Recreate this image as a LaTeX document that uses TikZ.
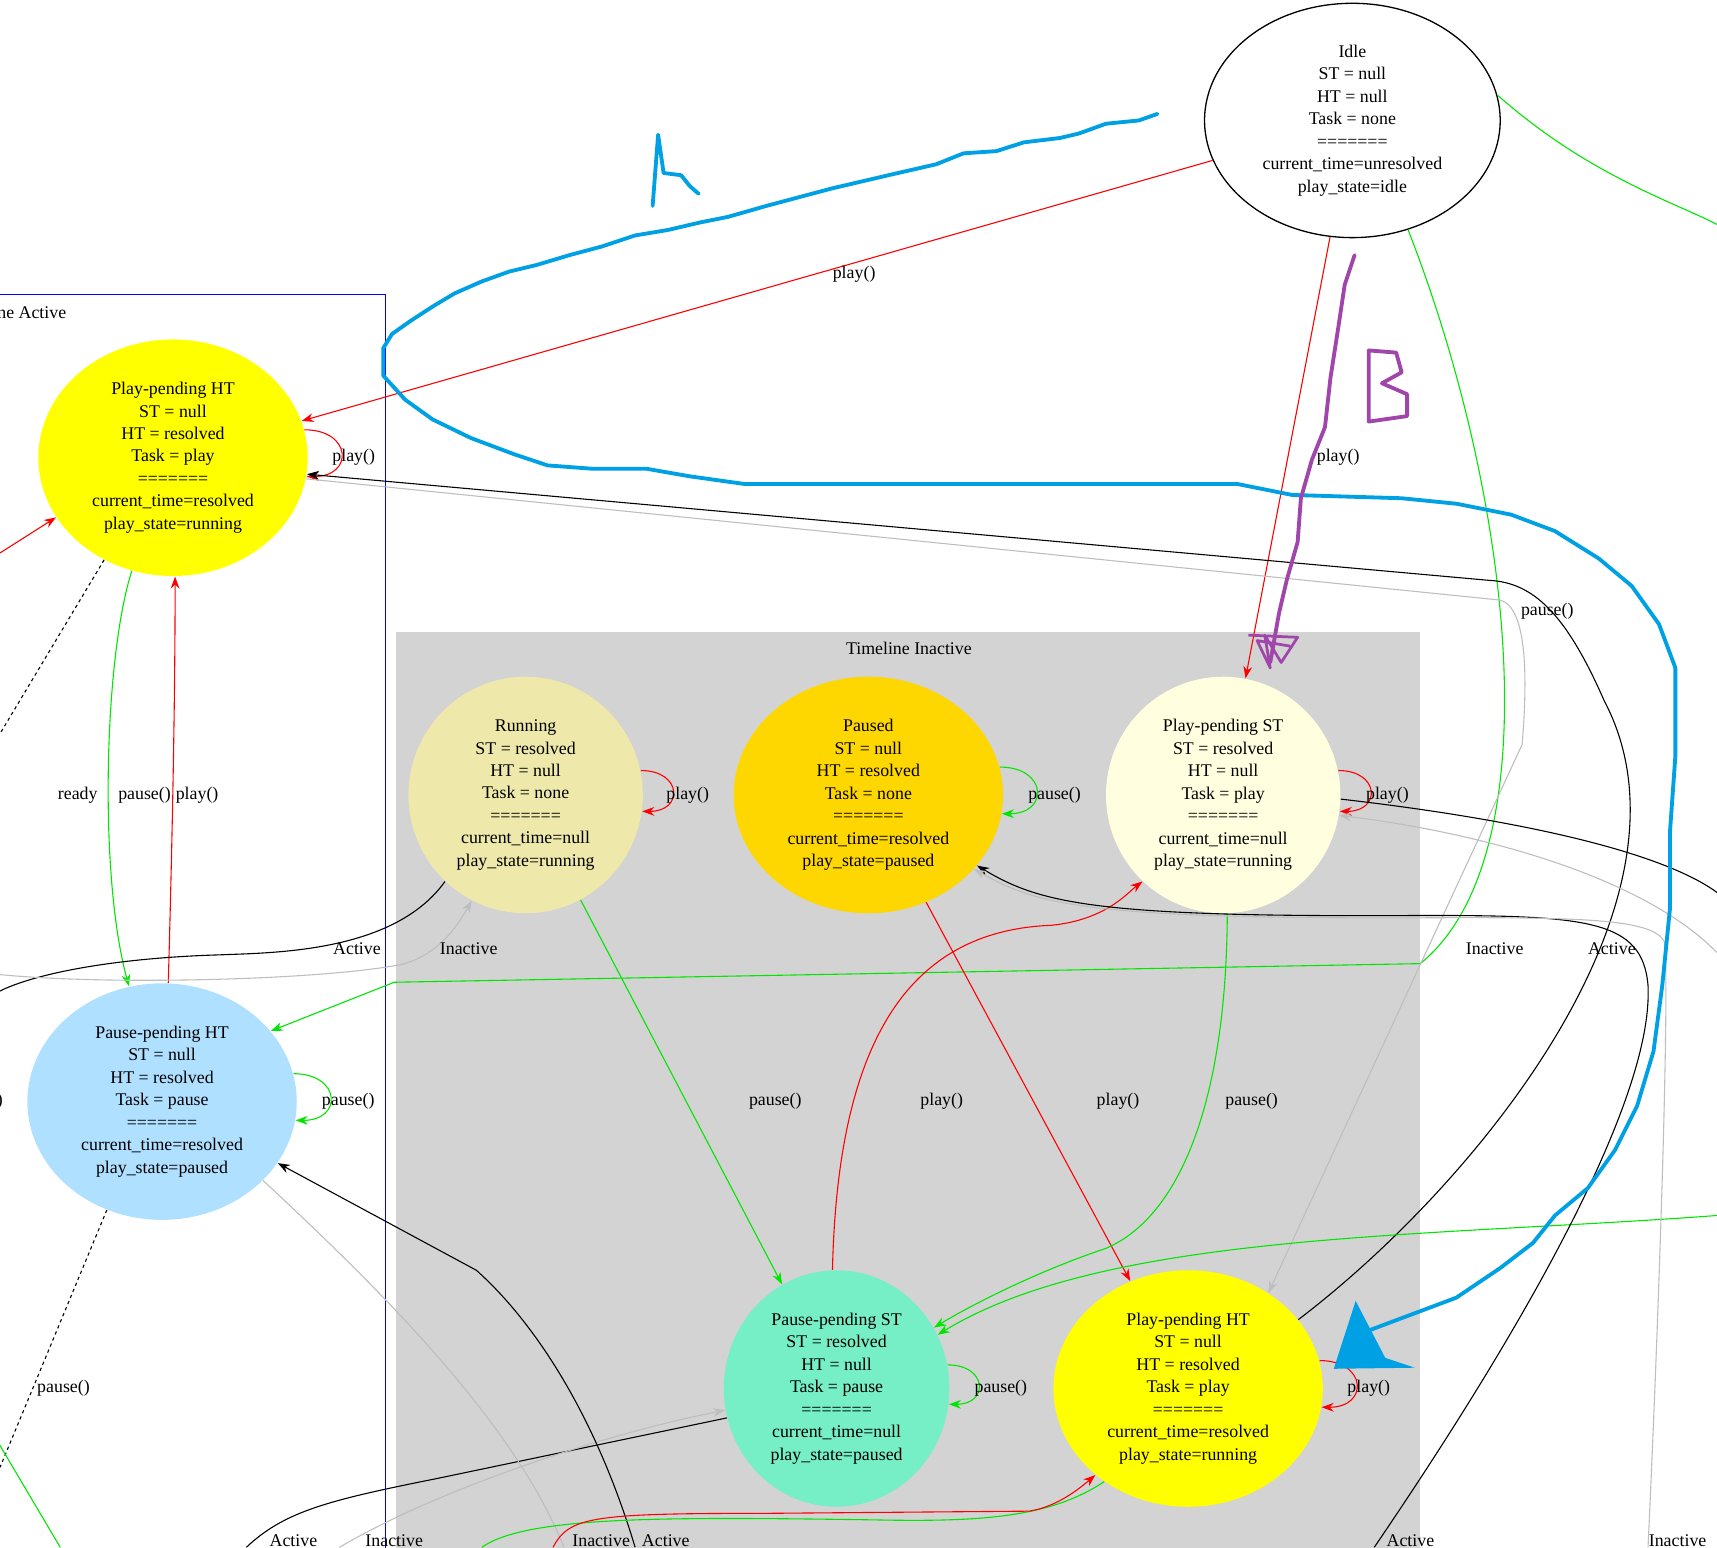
\documentclass[tikz,border=0pt]{standalone}
\usepackage{fontspec}
\setmainfont{Liberation Serif}
\usetikzlibrary{shapes.geometric,arrows.meta}
\definecolor{pgold}{RGB}{238,232,170}
\definecolor{lblue}{RGB}{176,224,255}
\definecolor{aqua}{RGB}{118,238,198}
\definecolor{lyel}{RGB}{255,255,224}
\definecolor{yel}{RGB}{255,255,0}
\definecolor{gld}{RGB}{255,215,0}
\definecolor{inact}{RGB}{211,211,211}
\definecolor{gr}{RGB}{0,230,0}
\definecolor{gry}{RGB}{190,190,190}
\definecolor{hblue}{RGB}{0,160,228}
\definecolor{hpurp}{RGB}{160,70,170}
\begin{document}
\begin{tikzpicture}[x=1pt,y=-1pt,line width=1pt,
  st/.style={ellipse,inner sep=0pt,align=center,font=\fontsize{16.3}{20.5}\selectfont},
  lb/.style={font=\fontsize{16.3}{18}\selectfont,inner sep=1pt},
  arr/.style={-{Stealth[length=11pt,width=8pt]}},
  lp/.style={out=0,in=0,looseness=2.6},
  hand/.style={line width=3.5pt,line cap=round,line join=round}]
\useasboundingbox (0,0) rectangle (1568,1413);
% clusters
\draw[blue] (-5,269) -- (352,269) -- (352,1420);
\node[lb,anchor=east] (tact) at (62,285) {Timeline Active};
\fill[inact] (362,577) rectangle (1297,1420);
\node[lb] (tin) at (830,592) {Timeline Inactive};
% states
\node[st,draw,line width=1.2pt,fill=white,minimum width=270pt,minimum height=214pt] (idle) at (1235,110) {Idle\\ST = null\\HT = null\\Task = none\\=======\\current\_time=unresolved\\play\_state=idle};
\node[st,fill=yel,minimum width=246pt,minimum height=216pt] (ppa) at (158,418) {Play-pending HT\\ST = null\\HT = resolved\\Task = play\\=======\\current\_time=resolved\\play\_state=running};
\node[st,fill=lblue,minimum width=246pt,minimum height=216pt] (pph) at (148,1006) {Pause-pending HT\\ST = null\\HT = resolved\\Task = pause\\=======\\current\_time=resolved\\play\_state=paused};
\node[st,fill=pgold,minimum width=214pt,minimum height=216pt] (run) at (480,726) {Running\\ST = resolved\\HT = null\\Task = none\\=======\\current\_time=null\\play\_state=running};
\node[st,fill=gld,minimum width=246pt,minimum height=216pt] (pau) at (793,726) {Paused\\ST = null\\HT = resolved\\Task = none\\=======\\current\_time=resolved\\play\_state=paused};
\node[st,fill=lyel,minimum width=214pt,minimum height=216pt] (ppst) at (1117,726) {Play-pending ST\\ST = resolved\\HT = null\\Task = play\\=======\\current\_time=null\\play\_state=running};
\node[st,fill=aqua,minimum width=206pt,minimum height=216pt] (pst) at (764,1268) {Pause-pending ST\\ST = resolved\\HT = null\\Task = pause\\=======\\current\_time=null\\play\_state=paused};
\node[st,fill=yel,minimum width=246pt,minimum height=216pt] (ppb) at (1085,1268) {Play-pending HT\\ST = null\\HT = resolved\\Task = play\\=======\\current\_time=resolved\\play\_state=running};
% edges from idle
\draw[red,arr] (idle) -- (ppa);
\node[lb] at (780,250) {play()};
\draw[red,arr] (idle) -- (ppst);
\node[lb] at (1222,418) {play()};
\draw[gr] (idle.10) .. controls (1450,160) and (1530,185) .. (1568,205);
\draw[gr,arr] (idle.-63) .. controls (1380,450) and (1420,780) .. (1297,880) -- (360,897) -- (pph.33);
\node[lb] at (1413,558) {pause()};
% loops
\draw[red,arr] (ppa.12) to[lp] (ppa.-8);
\node[lb] at (323,418) {play()};
\draw[gr,arr] (pph.12) to[lp] (pph.-8);
\node[lb] at (318,1006) {pause()};
\draw[red,arr] (run.12) to[lp] (run.-8);
\node[lb] at (628,726) {play()};
\draw[gr,arr] (pau.12) to[lp] (pau.-8);
\node[lb] at (963,726) {pause()};
\draw[red,arr] (ppst.12) to[lp] (ppst.-8);
\node[lb] at (1267,726) {play()};
\draw[gr,arr] (pst.12) to[lp] (pst.-8);
\node[lb] at (914,1268) {pause()};
\draw[red,arr] (ppb.12) to[lp] (ppb.-8);
\node[lb] at (1250,1268) {play()};
% active / inactive big edges
\draw[arr] (ppb.32) .. controls (1350,1080) and (1560,820) .. (1465,640) .. controls (1430,560) and (1400,532) .. (1360,530) -- (ppa.-7);
\draw[gry,arr] (ppa.-9) -- (1370,548) .. controls (1395,555) and (1395,620) .. (1390,680) -- (ppb.50);
\node[lb] at (1365,866) {Inactive};
\node[lb] at (1472,866) {Active};
% active cluster edges
\draw[gr,arr] (ppa.-110) .. controls (95,600) and (90,800) .. (pph.106);
\draw[red,arr] (pph.87) .. controls (157,780) and (160,640) .. (ppa.-89);
\node[lb] at (132,726) {pause()};
\node[lb] at (180,726) {play()};
\draw[dashed] (ppa.-124) -- (0,670);
\node[lb] at (71,726) {ready};
\draw[red,arr] (0,505) -- (ppa.-153);
\node[lb,anchor=east] at (4,1006) {pause()};
\draw[dashed] (pph.-117) -- (0,1340);
\node[lb] at (58,1268) {pause()};
\draw[gr] (0,1320) -- (55,1413);
% inactive edges
\draw[gr,arr] (run) -- (pst);
\node[lb] at (708,1006) {pause()};
\draw[red,arr] (pau) -- (ppb);
\node[lb] at (1021,1006) {play()};
\draw[red,arr] (pst.92) .. controls (765,950) and (830,850) .. (960,845) .. controls (1010,840) and (1030,815) .. (ppst.-133);
\node[lb] at (860,1006) {play()};
\draw[gr,arr] (ppst.-88) .. controls (1120,1000) and (1080,1110) .. (1010,1140) .. controls (950,1160) and (890,1190) .. (pst.32);
\node[lb] at (1143,1006) {pause()};
\draw[gr,arr] (1568,1110) .. controls (1300,1130) and (1010,1125) .. (pst.28);
\draw (run.-133) .. controls (360,870) and (250,870) .. (200,872) .. controls (100,875) and (30,890) .. (0,905);
\node[lb] at (326,866) {Active};
\draw[gry,arr] (0,890) .. controls (100,900) and (300,895) .. (370,880) .. controls (400,870) and (415,850) .. (run.-117);
\node[lb] at (428,866) {Inactive};
\draw (ppst.-2) .. controls (1400,750) and (1520,780) .. (1568,815);
\draw[gry,arr] (1568,870) .. controls (1500,800) and (1350,760) .. (ppst.-10);
\draw[arr] (1255,1413) .. controls (1400,1200) and (1510,1000) .. (1505,900) .. controls (1500,840) and (1450,836) .. (1300,836) .. controls (1000,838) and (950,825) .. (pau.-33);
\draw[gry,arr] (1505,1413) .. controls (1515,1200) and (1525,900) .. (1520,860) .. controls (1510,840) and (1450,838) .. (1330,838) .. controls (1000,840) and (950,828) .. (pau.-35);
\node[lb] at (1288,1407) {Active};
\node[lb] at (1532,1407) {Inactive};
\draw (225,1413) .. controls (260,1380) and (300,1370) .. (400,1350) -- (pst.-165);
\draw[gry,arr] (310,1413) .. controls (400,1360) and (550,1310) .. (pst.191);
\node[lb] at (268,1407) {Active};
\node[lb] at (360,1407) {Inactive};
\draw[gry] (pph.-38) .. controls (350,1180) and (470,1300) .. (515,1413);
\draw[arr] (580,1413) .. controls (540,1280) and (480,1200) .. (435,1160) -- (pph.-28);
\node[lb] at (549,1407) {Inactive};
\node[lb] at (608,1407) {Active};
\draw[gr] (440,1413) .. controls (480,1385) and (600,1385) .. (800,1388) .. controls (900,1390) and (960,1385) .. (ppb.-132);
\draw[red,arr] (505,1413) .. controls (520,1385) and (540,1382) .. (700,1382) -- (940,1380) .. controls (965,1376) and (985,1360) .. (ppb.-137);
% hand drawn A
\draw[hand,hblue] (1057,104) -- (1040,110) -- (1010,113) -- (985,122) -- (968,126) -- (935,130) -- (910,138) -- (880,140) -- (855,150) -- (820,158) -- (790,165) -- (760,172) -- (730,180) -- (700,188) -- (665,198) -- (640,203) -- (610,210) -- (580,215) -- (550,225) -- (520,233) -- (490,242) -- (465,248) -- (440,257) -- (415,268) -- (395,280) -- (375,293) -- (358,305) -- (350,318) -- (350,343) -- (370,365) -- (395,383) -- (430,400) -- (470,415) -- (500,425) -- (540,428) -- (590,428) -- (630,435) -- (680,442) -- (800,442) -- (1000,442) -- (1130,442) -- (1180,452) -- (1280,455) -- (1330,460) -- (1380,470) -- (1420,485) -- (1460,510) -- (1490,535) -- (1515,570) -- (1530,610) -- (1530,690) -- (1525,760) -- (1525,830) -- (1518,900) -- (1510,960) -- (1495,1010) -- (1475,1050) -- (1450,1085) -- (1420,1110) -- (1400,1135) -- (1370,1158) -- (1330,1185) -- (1290,1200) -- (1250,1215);
\draw[hand,hblue] (596,188) -- (601,123) -- (606,158) -- (622,160) -- (630,170) -- (638,177);
\fill[hblue] (1238,1188) -- (1218,1250) -- (1292,1249) -- (1265,1240) -- cycle;
% hand drawn B
\draw[hand,hpurp] (1237,233) -- (1228,260) -- (1222,300) -- (1215,345) -- (1210,390) -- (1198,420) -- (1188,455) -- (1185,495) -- (1175,530) -- (1168,560) -- (1160,605);
\draw[hand,hpurp] (1250,320) -- (1250,385) -- (1285,380) -- (1285,360) -- (1262,350) -- (1280,340) -- (1275,322) -- cycle;
\draw[line width=2.5pt,hpurp,line join=round] (1140,580) -- (1185,582) -- (1170,605) -- (1155,580) -- (1160,610) -- (1148,585) -- (1178,590);
\end{tikzpicture}
\end{document}
